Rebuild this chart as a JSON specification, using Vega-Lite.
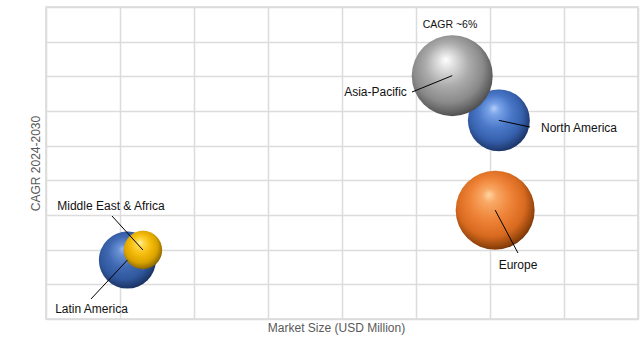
{
  "$schema": "https://vega.github.io/schema/vega-lite/v6.json",
  "width": 592,
  "height": 312,
  "autosize": {"type": "none"},
  "padding": {"left": 46, "top": 7, "right": 3, "bottom": 40},
  "background": "white",
  "config": {"view": {"stroke": "#d9d9d9", "strokeWidth": 1.5}, "font": "Liberation Sans"},
  "datasets": {
    "regions": [
      {"region": "Latin America", "size": 1.10, "cagr": 1.70, "share": 32.5, "lx": 0.608, "ly": 0.577, "tx": 0.615, "ty": 0.288},
      {"region": "Middle East & Africa", "size": 1.31, "cagr": 1.99, "share": 14.8, "lx": 0.892, "ly": 2.971, "tx": 0.878, "ty": 3.259},
      {"region": "North America", "size": 6.12, "cagr": 5.73, "share": 38.4, "lx": 6.541, "ly": 5.538, "tx": 7.203, "ty": 5.509},
      {"region": "Asia-Pacific", "size": 5.49, "cagr": 7.02, "share": 65.6, "lx": 4.946, "ly": 6.547, "tx": 4.453, "ty": 6.547},
      {"region": "Europe", "size": 6.07, "cagr": 3.14, "share": 62.4, "lx": 6.378, "ly": 1.904, "tx": 6.378, "ty": 1.558}
    ],
    "notes": [
      {"note": "CAGR ~6%", "nx": 5.459, "ny": 8.48}
    ]
  },
  "layer": [
    {
      "data": {"name": "regions"},
      "mark": {"type": "point", "filled": true, "shape": "circle", "opacity": 1, "strokeWidth": 0},
      "encoding": {
        "x": {"field": "size", "type": "quantitative",
              "scale": {"domain": [0, 8], "nice": false, "zero": false},
              "axis": {"title": "Market Size (USD Million)", "tickCount": 8, "labels": false, "ticks": false, "domain": false, "grid": true, "gridColor": "#dcdcdc", "gridWidth": 1.5, "titleFont": "Liberation Sans", "titleFontSize": 12, "titleFontWeight": "normal", "titleColor": "#595959", "titlePadding": 3, "titleX": 290}},
        "y": {"field": "cagr", "type": "quantitative",
              "scale": {"domain": [0, 9], "nice": false, "zero": false},
              "axis": {"title": "CAGR 2024-2030", "tickCount": 9, "labels": false, "ticks": false, "domain": false, "grid": true, "gridColor": "#dcdcdc", "gridWidth": 1.5, "titleFont": "Liberation Sans", "titleFontSize": 12, "titleFontWeight": "normal", "titleColor": "#595959", "titlePadding": 4}},
        "size": {"field": "share", "type": "quantitative", "scale": {"type": "linear", "domain": [0, 100], "range": [0, 10000]}, "legend": null},
        "fill": {
          "condition": [
            {"test": "datum.region === 'Asia-Pacific'", "value": {"gradient": "radial", "x1": 0.42, "y1": 0.3, "r1": 0, "x2": 0.46, "y2": 0.44, "r2": 0.6, "stops": [{"offset": 0, "color": "#ffffff"}, {"offset": 0.15, "color": "#e2e2e2"}, {"offset": 0.45, "color": "#ababab"}, {"offset": 0.72, "color": "#8a8a8a"}, {"offset": 0.9, "color": "#5e5e5e"}, {"offset": 1, "color": "#3f3f3f"}]}},
            {"test": "datum.region === 'North America'", "value": {"gradient": "radial", "x1": 0.42, "y1": 0.3, "r1": 0, "x2": 0.46, "y2": 0.44, "r2": 0.6, "stops": [{"offset": 0, "color": "#b3cdf7"}, {"offset": 0.15, "color": "#7aa3e8"}, {"offset": 0.45, "color": "#4a78c8"}, {"offset": 0.72, "color": "#3660ac"}, {"offset": 0.9, "color": "#223f78"}, {"offset": 1, "color": "#152a55"}]}},
            {"test": "datum.region === 'Europe'", "value": {"gradient": "radial", "x1": 0.42, "y1": 0.3, "r1": 0, "x2": 0.46, "y2": 0.44, "r2": 0.6, "stops": [{"offset": 0, "color": "#ffd6a3"}, {"offset": 0.15, "color": "#f8a865"}, {"offset": 0.45, "color": "#ee8236"}, {"offset": 0.72, "color": "#d86a1f"}, {"offset": 0.9, "color": "#94440c"}, {"offset": 1, "color": "#5e2a05"}]}},
            {"test": "datum.region === 'Middle East & Africa'", "value": {"gradient": "radial", "x1": 0.42, "y1": 0.3, "r1": 0, "x2": 0.46, "y2": 0.44, "r2": 0.6, "stops": [{"offset": 0, "color": "#fff6b5"}, {"offset": 0.15, "color": "#ffd94a"}, {"offset": 0.45, "color": "#f4bb0a"}, {"offset": 0.72, "color": "#d9a200"}, {"offset": 0.9, "color": "#9a7300"}, {"offset": 1, "color": "#634a00"}]}}
          ],
          "value": {"gradient": "radial", "x1": 0.42, "y1": 0.3, "r1": 0, "x2": 0.46, "y2": 0.44, "r2": 0.6, "stops": [{"offset": 0, "color": "#9db8e8"}, {"offset": 0.15, "color": "#6890d4"}, {"offset": 0.45, "color": "#4069b2"}, {"offset": 0.72, "color": "#30589e"}, {"offset": 0.9, "color": "#203c70"}, {"offset": 1, "color": "#142850"}]}
        }
      }
    },
    {
      "data": {"name": "regions"},
      "mark": {"type": "rule", "color": "#000000", "strokeWidth": 1},
      "encoding": {
        "x": {"field": "size", "type": "quantitative"},
        "y": {"field": "cagr", "type": "quantitative"},
        "x2": {"field": "lx"},
        "y2": {"field": "ly"}
      }
    },
    {
      "data": {"name": "regions"},
      "mark": {"type": "text", "font": "Liberation Sans", "fontSize": 12, "color": "#111111", "align": "center", "baseline": "middle"},
      "encoding": {
        "x": {"field": "tx", "type": "quantitative"},
        "y": {"field": "ty", "type": "quantitative"},
        "text": {"field": "region"}
      }
    },
    {
      "data": {"name": "notes"},
      "mark": {"type": "text", "font": "Liberation Sans", "fontSize": 10.5, "color": "#111111", "align": "center", "baseline": "middle"},
      "encoding": {
        "x": {"field": "nx", "type": "quantitative"},
        "y": {"field": "ny", "type": "quantitative"},
        "text": {"field": "note"}
      }
    }
  ]
}
